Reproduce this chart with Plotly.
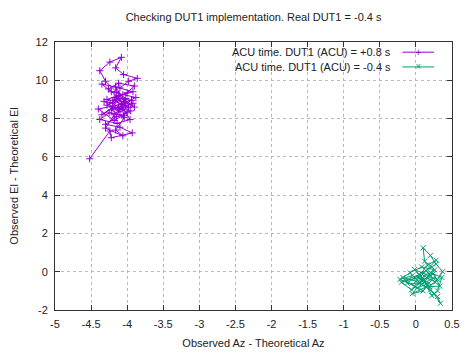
import plotly.graph_objects as go

# ---- data ----
acu_p08_az = [-4.52, -4.24, -4.22, -3.93, -4.10, -4.30, -4.15, -3.95, -4.20, -4.35,
              -4.05, -3.90, -4.12, -4.28, -4.00, -4.18, -4.40, -4.08, -3.88, -4.22,
              -4.35, -4.10, -3.98, -3.86, -4.05, -4.16, -4.08, -4.24, -4.38, -4.30,
              -4.15, -4.02, -4.20, -4.32, -4.12, -3.92, -4.05, -4.25, -4.38, -4.14,
              -3.96, -4.06, -4.18, -4.00, -3.90, -4.12, -4.26, -4.10, -3.94, -4.08,
              -4.22, -4.04, -4.16, -4.06, -4.30, -4.18, -4.02, -4.14, -4.28, -4.10,
              -3.98, -4.20, -4.06, -3.92, -4.16, -4.02, -4.12]
acu_p08_el = [5.90, 7.35, 7.00, 7.25, 7.55, 7.70, 8.10, 8.40, 8.60, 8.20,
              8.90, 8.60, 9.20, 9.00, 8.30, 7.90, 8.50, 8.75, 9.10, 9.40,
              9.80, 9.60, 9.95, 10.10, 10.30, 10.65, 11.20, 10.95, 10.50, 9.95,
              9.40, 9.05, 8.80, 8.90, 8.45, 8.80, 8.15, 8.30, 7.95, 7.75,
              7.95, 8.55, 9.10, 9.35, 9.70, 9.85, 9.55, 9.05, 8.95, 8.65,
              8.45, 8.05, 7.40, 7.10, 7.50, 8.20, 8.70, 9.00, 8.70, 8.35,
              8.60, 8.95, 9.25, 9.40, 9.65, 8.85, 8.55]

acu_m04_az = [0.05, 0.18, 0.02, -0.15, 0.08, 0.22, 0.12, 0.10, 0.20, 0.28,
              0.37, 0.30, 0.18, 0.05, -0.05, -0.22, -0.02, 0.10, -0.05, 0.14,
              0.27, 0.15, 0.26, 0.08, -0.08, -0.18, 0.00, 0.20, 0.30, 0.34,
              0.25, 0.12, 0.04, -0.12, 0.08, 0.24, 0.14, 0.28, 0.16, 0.03,
              -0.20, -0.06, 0.10, 0.24, 0.33, 0.19, 0.06, 0.14, -0.02, 0.10,
              0.22, 0.30, 0.36, 0.20]
acu_m04_el = [-0.30, -0.60, -0.85, -0.45, -0.10, 0.25, 0.55, 1.25, 0.85, 0.40,
              0.00, -0.40, -0.25, -0.55, -0.20, -0.40, -0.75, -1.00, -1.15, -0.80,
              -0.55, -0.30, 0.10, 0.25, -0.05, -0.30, -0.50, -0.95, -1.30, -1.65,
              -1.15, -0.50, -0.15, -0.60, -0.65, -0.35, 0.05, 0.60, 0.35, -0.30,
              -0.55, -0.95, -0.45, -0.10, -0.75, -0.78, -0.40, -0.15, 0.12, -0.35,
              -1.25, -1.00, -0.30, -0.05]

series_names = ["ACU time. DUT1 (ACU) = +0.8 s", "ACU time. DUT1 (ACU) = -0.4 s"]
series_colors = ["#9400d3", "#009e73"]
series_symbols = ["cross-thin", "x-thin"]

x_ticks = [-5, -4.5, -4, -3.5, -3, -2.5, -2, -1.5, -1, -0.5, 0, 0.5]
y_ticks = [-2, 0, 2, 4, 6, 8, 10, 12]

title_text = "Checking DUT1 implementation. Real DUT1 = -0.4 s"
x_title = "Observed Az - Theoretical Az"
y_title = "Observed El - Theoretical El"

FONT = "Liberation Sans, Arial, sans-serif"
TXT = "#222222"

fig = go.Figure()
for xs, ys, name, col, sym in zip([acu_p08_az, acu_m04_az], [acu_p08_el, acu_m04_el],
                                  series_names, series_colors, series_symbols):
    fig.add_trace(go.Scatter(
        x=xs, y=ys, mode="lines+markers", name=name, showlegend=False,
        line=dict(color=col, width=1),
        marker=dict(symbol=sym, size=5, color=col, line=dict(color=col, width=1)),
    ))

# gnuplot-style key: right-aligned text then a line sample with marker
key_rows_y = [0.962, 0.907]
for ry, name, col, sym in zip(key_rows_y, series_names, series_colors, ["+", "×"]):
    fig.add_annotation(xref="paper", yref="paper", x=0.852, y=ry, text=name,
                       showarrow=False, xanchor="right", yanchor="middle",
                       font=dict(family=FONT, size=11, color=TXT))
    fig.add_shape(type="line", xref="paper", yref="paper", x0=0.875, x1=0.955,
                  y0=ry, y1=ry, line=dict(color=col, width=1))
    fig.add_annotation(xref="paper", yref="paper", x=0.915, y=ry, text=sym,
                       showarrow=False, xanchor="center", yanchor="middle",
                       font=dict(family="DejaVu Sans", size=8, color=col))

# page body has an 8px default margin: size the figure so the plot area lands
# where the reference has it (x 55..452, y 42..310 in the 474x355 window)
fig.update_layout(
    width=466, height=347,
    margin=dict(l=47, r=22, t=34, b=45, autoexpand=False),
    paper_bgcolor="white", plot_bgcolor="white",
    title=dict(text=title_text, x=0.527, xanchor="center", y=0.974, yanchor="middle",
               font=dict(family=FONT, size=11, color=TXT)),
    font=dict(family=FONT, size=11, color=TXT),
    showlegend=False,
)
axis_common = dict(
    showline=True, linecolor="#333333", linewidth=1, mirror="ticks",
    ticks="inside", ticklen=5, tickcolor="#333333",
    showgrid=True, gridcolor="#b8b8b8", griddash="dot", gridwidth=1,
    zeroline=False, automargin=False,
    tickfont=dict(family=FONT, size=11, color=TXT),
)
fig.update_xaxes(range=[-5, 0.5], tickvals=x_ticks, ticktext=[f"{v:g}" for v in x_ticks],
                 ticklabelstandoff=4,
                 title=dict(text=x_title, standoff=10, font=dict(family=FONT, size=11, color=TXT)),
                 **axis_common)
fig.update_yaxes(range=[-2, 12], tickvals=y_ticks, ticktext=[f"{v:g}" for v in y_ticks],
                 ticklabelstandoff=4,
                 title=dict(text=y_title, standoff=18, font=dict(family=FONT, size=11, color=TXT)),
                 **axis_common)

fig.write_html("out.html")
